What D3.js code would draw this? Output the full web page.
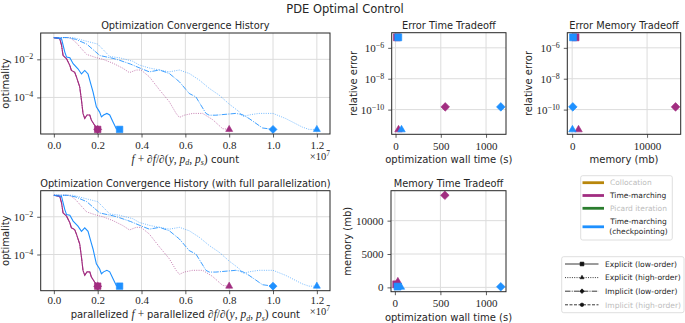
<!DOCTYPE html>
<html><head><meta charset="utf-8">
<script src="https://cdn.jsdelivr.net/npm/d3@7"></script>
<style>body{margin:0;background:#fff} svg{display:block}</style>
</head><body>
<svg id="c" width="685" height="323"></svg>
<script>
// ---------------- DATA ----------------
// Convergence histories: x = function + gradient evaluation count (units of 1e7), y = optimality
const tmExplLowX  = [0, 0.027, 0.035, 0.042, 0.058, 0.073, 0.080, 0.095, 0.103, 0.118, 0.126, 0.133, 0.141, 0.151, 0.164, 0.171, 0.186, 0.200];
const tmExplLowY  = [1.38e-1, 1.2e-1, 5.5e-2, 1.6e-2, 1.07e-2, 4.8e-3, 2.6e-3, 2.1e-3, 1.2e-3, 3.6e-4, 7.2e-5, 1.45e-5, 7.9e-6, 1.2e-5, 1.2e-5, 6.5e-6, 3.5e-6, 2.1e-6];
// implicit low-order time-marching lies under the explicit low-order curve
const tmImplLowX  = [0, 0.027, 0.035, 0.042, 0.058, 0.073, 0.080, 0.095, 0.103, 0.118, 0.126, 0.133, 0.141, 0.151, 0.164, 0.171, 0.186, 0.200];
const tmImplLowY  = [1.38e-1, 1.2e-1, 5.5e-2, 1.6e-2, 1.07e-2, 4.8e-3, 2.6e-3, 2.1e-3, 1.2e-3, 3.6e-4, 7.2e-5, 1.45e-5, 7.9e-6, 1.2e-5, 1.2e-5, 6.5e-6, 3.5e-6, 2.1e-6];
const tmExplHighX = [0, 0.073, 0.10, 0.13, 0.15, 0.19, 0.224, 0.270, 0.315, 0.345, 0.376, 0.398, 0.436, 0.482, 0.527, 0.558, 0.573, 0.595, 0.633, 0.679, 0.724, 0.770, 0.800];
const tmExplHighY = [1.38e-1, 1.38e-1, 7.9e-2, 3.2e-2, 1.8e-2, 1.26e-2, 1.0e-2, 6.2e-3, 3.4e-3, 2.0e-3, 2.75e-3, 2.75e-3, 1.2e-3, 2.5e-4, 5.9e-5, 1.45e-5, 8.9e-6, 1.17e-5, 1.45e-5, 1.45e-5, 6.9e-6, 2.3e-6, 2.1e-6];
const cpExplLowX  = [0, 0.035, 0.050, 0.058, 0.073, 0.088, 0.110, 0.126, 0.141, 0.156, 0.171, 0.179, 0.194, 0.209, 0.217, 0.227, 0.242, 0.255, 0.270, 0.285, 0.300];
const cpExplLowY  = [1.38e-1, 1.2e-1, 2.4e-2, 1.3e-2, 1.2e-2, 5.9e-3, 3.2e-3, 1.7e-3, 2.6e-3, 1.7e-3, 4.0e-4, 1.9e-4, 3.2e-5, 1.7e-5, 9.5e-6, 1.2e-5, 1.45e-5, 1.2e-5, 5.2e-6, 2.3e-6, 2.1e-6];
const cpImplLowX  = [0, 0.06, 0.10, 0.15, 0.19, 0.21, 0.27, 0.30, 0.35, 0.40, 0.436, 0.482, 0.527, 0.573, 0.618, 0.648, 0.694, 0.709, 0.739, 0.83, 0.86, 0.891, 0.952, 1.0];
const cpImplLowY  = [1.38e-1, 1.38e-1, 1.12e-1, 6.3e-2, 2.5e-2, 1.58e-2, 1.12e-2, 8.9e-3, 5.6e-3, 3.2e-3, 2.2e-3, 2.75e-3, 1.8e-3, 6.6e-4, 1.6e-4, 1.07e-4, 1.45e-5, 1.17e-5, 1.17e-5, 1.45e-5, 1.26e-5, 7.8e-6, 2.5e-6, 2.1e-6];
const cpExplHighX = [0, 0.088, 0.149, 0.20, 0.23, 0.255, 0.30, 0.36, 0.39, 0.436, 0.482, 0.527, 0.573, 0.618, 0.664, 0.709, 0.755, 0.80, 0.845, 0.861, 0.90, 0.936, 1.0, 1.058, 1.133, 1.164, 1.2];
const cpExplHighY = [1.38e-1, 1.38e-1, 8.9e-2, 6.3e-2, 2.8e-2, 1.4e-2, 1.2e-2, 7.9e-3, 5.0e-3, 3.5e-3, 2.75e-3, 2.2e-3, 2.75e-3, 1.8e-3, 8.1e-4, 3.0e-4, 1.3e-4, 4.5e-5, 1.8e-5, 1.0e-5, 1.26e-5, 1.45e-5, 1.45e-5, 7.8e-6, 2.8e-6, 2.1e-6, 2.1e-6];

// Tradeoff scatter (one entry per method/scheme)
const tradeMethod = ["Time-marching", "Time-marching", "Time-marching", "Time-marching (checkpointing)", "Time-marching (checkpointing)", "Time-marching (checkpointing)"];
const tradeScheme = ["Explicit (low-order)", "Explicit (high-order)", "Implicit (low-order)", "Explicit (low-order)", "Explicit (high-order)", "Implicit (low-order)"];
const wallTime    = [15, 33, 549, 30, 66, 1163];
const memoryMb    = [450, 850, 13800, 120, 40, 90];
const relError    = [4.8e-6, 5e-12, 1.5e-10, 4.8e-6, 5e-12, 1.5e-10];

// Ticks
const convXTicks = [0, 0.2, 0.4, 0.6, 0.8, 1.0, 1.2];
const convYTicks = [1e-2, 1e-4];
const errYTicks  = [1e-6, 1e-8, 1e-10];
const timeTicks  = [0, 500, 1000];
const memXTicks  = [0, 10000];
const memYTicks  = [0, 5000, 10000];

// Legends
const methodLabels = ["Collocation", "Time-marching", "Picard iteration", "Time-marching\n(checkpointing)"];
const methodActive = [false, true, false, true];
const schemeLabels = ["Explicit (low-order)", "Explicit (high-order)", "Implicit (low-order)", "Implicit (high-order)"];
const schemeActive = [true, true, true, false];

// ---------------- STYLE ----------------
const PURPLE = "#a12d80", BLUE = "#1e90ff";
const methodColor = {"Collocation": "#b8860b", "Time-marching": PURPLE, "Picard iteration": "#2a7d2e", "Time-marching (checkpointing)": BLUE};
const schemeMarker = {"Explicit (low-order)": "square", "Explicit (high-order)": "triangle", "Implicit (low-order)": "diamond", "Implicit (high-order)": "circle"};
const schemeDash = {"Explicit (low-order)": null, "Explicit (high-order)": "1,1.3", "Implicit (low-order)": "5.5,1.2,1,1.2", "Implicit (high-order)": "3,1.5"};
const SANS = "DejaVu Sans, Verdana, sans-serif";
const SERIF = "Liberation Serif, 'DejaVu Serif', serif";
const TXT = "#262626";

const svg = d3.select("#c");
svg.append("rect").attr("width", 685).attr("height", 323).attr("fill", "#fff");

function markerPath(type, s) {
  if (type === "square") return d3.symbol(d3.symbolSquare, s * s)();
  if (type === "diamond") return d3.symbol(d3.symbolSquare, s * s * 0.75)();
  if (type === "triangle") return d3.symbol(d3.symbolTriangle, s * s * 0.5)();
  return d3.symbol(d3.symbolCircle, s * s * 0.7)();
}
function drawMarker(g, type, x, y, color, s) {
  g.append("path").attr("d", markerPath(type, s))
    .attr("transform", `translate(${x},${y})` + (type === "diamond" ? " rotate(45)" : ""))
    .attr("fill", color).attr("stroke", color).attr("stroke-width", 0.6);
}
function padLin(v) { const [a, b] = d3.extent(v); const r = b - a; return [a - 0.05 * r, b + 0.05 * r]; }
function padLog(v) { const [a, b] = d3.extent(v).map(Math.log10); const r = b - a; return [10 ** (a - 0.05 * r), 10 ** (b + 0.05 * r)]; }

function logFmt(sel, fs) {
  sel.each(function(d) {
    const e = Math.round(Math.log10(d));
    const t = d3.select(this); t.text(null);
    t.append("tspan").text("10");
    t.append("tspan").attr("dy", "-0.5em").attr("font-size", fs * 0.72).text("−" + Math.abs(e));
  });
}

function axes(g, b, x, y, xt, yt, o) {
  const grid = g.append("g");
  grid.selectAll(null).data(xt).join("line")
    .attr("x1", d => x(d)).attr("x2", d => x(d)).attr("y1", b.y0).attr("y2", b.y1)
    .attr("stroke", "#dcdcdc").attr("stroke-width", 1);
  grid.selectAll(null).data(yt).join("line")
    .attr("y1", d => y(d)).attr("y2", d => y(d)).attr("x1", b.x0).attr("x2", b.x1)
    .attr("stroke", "#dcdcdc").attr("stroke-width", 1);
  const fs = 11;
  const xa = g.append("g").attr("transform", `translate(0,${b.y1})`)
    .call(d3.axisBottom(x).tickValues(xt).tickSize(3.5).tickPadding(o.xpad).tickFormat(o.xfmt));
  const ya = g.append("g").attr("transform", `translate(${b.x0},0)`)
    .call(d3.axisLeft(y).tickValues(yt).tickSize(3.5).tickPadding(4).tickFormat(o.ylog ? (d => "") : o.yfmt));
  [xa, ya].forEach(a => {
    a.select(".domain").remove();
    a.selectAll("line").attr("stroke", "#333").attr("stroke-width", 0.8);
    a.selectAll("text").attr("font-family", SERIF).attr("font-size", fs).attr("fill", TXT);
  });
  if (o.ylog) logFmt(ya.selectAll("text"), fs);
}
function frame(g, b) {
  g.append("rect").attr("x", b.x0).attr("y", b.y0).attr("width", b.x1 - b.x0).attr("height", b.y1 - b.y0)
    .attr("fill", "none").attr("stroke", "#262626").attr("stroke-width", 1);
}
function text(g, x, y, s, o = {}) {
  return g.append("text").attr("x", x).attr("y", y).text(s)
    .attr("font-family", o.ff || SANS).attr("font-size", o.fs || 10).attr("fill", o.fill || TXT)
    .attr("text-anchor", o.anchor || "middle")
    .attr("transform", o.rot ? `rotate(-90,${x},${y})` : null);
}
function mathLabel(g, x, y, prefix) {
  const t = g.append("text").attr("x", x).attr("y", y).attr("text-anchor", "middle").attr("fill", TXT).attr("font-size", 10);
  const parts = [];
  const P = (s, it, sub) => parts.push({s, it, sub});
  if (prefix) parts.push({s: "parallelized ", sans: true});
  P("f", 1); P(" + ");
  if (prefix) parts.push({s: "parallelized ", sans: true});
  P("∂"); P("f", 1); P("/∂("); P("y", 1); P(", "); P("p", 1); P("d", 1, 1); P(", "); P("p", 1); P("s", 1, 1); P(")");
  parts.push({s: " count", sans: true});
  let shifted = false;
  parts.forEach(p => {
    const ts = t.append("tspan").text(p.s)
      .attr("font-family", p.sans ? SANS : SERIF)
      .attr("font-size", p.sans ? 10 : (p.sub ? 8 : 11.5))
      .attr("font-style", p.it ? "italic" : "normal");
    if (p.sub && !shifted) { ts.attr("dy", 2.5); shifted = true; }
    else if (!p.sub && shifted) { ts.attr("dy", -2.5); shifted = false; }
  });
}
function offsetText(g, x, y) {
  const t = g.append("text").attr("x", x).attr("y", y).attr("text-anchor", "end").attr("fill", TXT)
    .attr("font-family", SERIF).attr("font-size", 10.5);
  t.append("tspan").text("×10");
  t.append("tspan").attr("dy", -4.5).attr("font-size", 7.5).text("7");
}

// ---------------- SUPTITLE ----------------
text(svg, 345, 13, "PDE Optimal Control", {fs: 11.5});

// ---------------- CONVERGENCE PANELS ----------------
const convSeries = [
  {x: tmExplHighX, y: tmExplHighY, m: "Time-marching", s: "Explicit (high-order)"},
  {x: cpExplHighX, y: cpExplHighY, m: "Time-marching (checkpointing)", s: "Explicit (high-order)"},
  {x: cpImplLowX, y: cpImplLowY, m: "Time-marching (checkpointing)", s: "Implicit (low-order)"},
  {x: tmImplLowX, y: tmImplLowY, m: "Time-marching", s: "Implicit (low-order)"},
  {x: tmExplLowX, y: tmExplLowY, m: "Time-marching", s: "Explicit (low-order)"},
  {x: cpExplLowX, y: cpExplLowY, m: "Time-marching (checkpointing)", s: "Explicit (low-order)"}
];
const allConvX = convSeries.flatMap(d => d.x), allConvY = convSeries.flatMap(d => d.y);

function convPanel(b, title, par, tickPad, titleY, labelY, offY) {
  const g = svg.append("g");
  const x = d3.scaleLinear().domain(padLin(allConvX)).range([b.x0, b.x1]);
  const y = d3.scaleLog().domain(padLog(allConvY)).range([b.y1, b.y0]);
  axes(g, b, x, y, convXTicks, convYTicks, {xpad: tickPad, xfmt: d3.format(".1f"), ylog: true});
  const line = d3.line().x(d => x(d[0])).y(d => y(d[1]));
  convSeries.forEach(sr => {
    const pts = sr.x.map((v, i) => [v, sr.y[i]]);
    const dotted = sr.s === "Explicit (high-order)";
    const dd = sr.s === "Implicit (low-order)";
    g.append("path").attr("d", line(pts)).attr("fill", "none")
      .attr("stroke", methodColor[sr.m]).attr("stroke-width", dotted ? 1 : (dd ? 0.95 : 1.1))
      .attr("stroke-opacity", dotted ? 0.6 : (dd ? 0.9 : 1))
      .attr("stroke-dasharray", schemeDash[sr.s]);
  });
  convSeries.forEach(sr => {
    const last = sr.x.length - 1;
    drawMarker(g, schemeMarker[sr.s], x(sr.x[last]), y(sr.y[last]), methodColor[sr.m], 6.5);
  });
  frame(g, b);
  text(g, (b.x0 + b.x1) / 2, titleY, title, {fs: 9.8});
  text(g, 9, (b.y0 + b.y1) / 2, "optimality", {fs: 10, rot: true});
  mathLabel(g, (b.x0 + b.x1) / 2, labelY, par);
  offsetText(g, b.x1, offY);
}
convPanel({x0: 40.7, x1: 330, y0: 33, y1: 134}, "Optimization Convergence History", false, 4, 28.5, 162.5, 160);
convPanel({x0: 40.7, x1: 330, y0: 190.7, y1: 290.7}, "Optimization Convergence History (with full parallelization)", true, 2.5, 186.5, 318, 315);

// ---------------- TRADEOFF PANELS ----------------
const idx = d3.range(wallTime.length);
function scatterPanel(b, title, xv, yv, xt, yt, ylog, xlab, ylab, ylabX, xlabY, titleY, tickPad) {
  const g = svg.append("g");
  const x = d3.scaleLinear().domain(padLin(xv)).range([b.x0, b.x1]);
  const y = ylog ? d3.scaleLog().domain(padLog(yv)).range([b.y1, b.y0])
                 : d3.scaleLinear().domain(padLin(yv)).range([b.y1, b.y0]);
  axes(g, b, x, y, xt, yt, {xpad: tickPad, xfmt: d3.format("d"), ylog: ylog, yfmt: d3.format("d")});
  idx.forEach(i => drawMarker(g, schemeMarker[tradeScheme[i]], x(xv[i]), y(yv[i]), methodColor[tradeMethod[i]], 7));
  frame(g, b);
  text(g, (b.x0 + b.x1) / 2, titleY, title, {fs: 9.8});
  text(g, ylabX, (b.y0 + b.y1) / 2, ylab, {fs: 10, rot: true});
  text(g, (b.x0 + b.x1) / 2, xlabY, xlab, {fs: 10});
}
scatterPanel({x0: 391.7, x1: 506, y0: 32.7, y1: 134.3}, "Error Time Tradeoff", wallTime, relError, timeTicks, errYTicks, true,
  "optimization wall time (s)", "relative error", 356.5, 162.5, 28.5, 4);
scatterPanel({x0: 567.3, x1: 680.7, y0: 32.7, y1: 134.3}, "Error Memory Tradeoff", memoryMb, relError, memXTicks, errYTicks, true,
  "memory (mb)", "relative error", 532.3, 162.5, 28.5, 4);
scatterPanel({x0: 391, x1: 506, y0: 190.7, y1: 291.7}, "Memory Time Tradeoff", wallTime, memoryMb, timeTicks, memYTicks, false,
  "optimization wall time (s)", "memory (mb)", 351.5, 321, 186.5, 4.5);

// ---------------- LEGENDS ----------------
const L1 = svg.append("g");
L1.append("rect").attr("x", 580.7).attr("y", 175.7).attr("width", 91.6).attr("height", 64.3).attr("rx", 2)
  .attr("fill", "#fff").attr("stroke", "#d5d5d5").attr("stroke-width", 0.8);
const l1Y = [182.7, 195.5, 208.3, 226.8];
methodLabels.forEach((lab, i) => {
  const key = lab.replace("\n", " ");
  L1.append("line").attr("x1", 582.5).attr("x2", 604).attr("y1", l1Y[i]).attr("y2", l1Y[i])
    .attr("stroke", methodColor[key]).attr("stroke-width", 2.8);
  const lines = lab.split("\n");
  const col = methodActive[i] ? TXT : "#bdbdbd";
  if (lines.length === 1) {
    text(L1, 610, l1Y[i] + 2.7, lab, {fs: 7.5, anchor: "start", fill: col});
  } else {
    lines.forEach((ln, j) => text(L1, 638.5, l1Y[i] - 2.4 + j * 9.8, ln, {fs: 7.5, fill: col}));
  }
});

const L2 = svg.append("g");
L2.append("rect").attr("x", 561.7).attr("y", 256.7).attr("width", 122.3).attr("height", 56).attr("rx", 2)
  .attr("fill", "#fff").attr("stroke", "#d5d5d5").attr("stroke-width", 0.8);
const l2Y = [264, 277.6, 291.2, 304.8];
schemeLabels.forEach((lab, i) => {
  L2.append("line").attr("x1", 565).attr("x2", 598.5).attr("y1", l2Y[i]).attr("y2", l2Y[i])
    .attr("stroke", "#222").attr("stroke-width", 0.9).attr("stroke-dasharray", schemeDash[lab]);
  drawMarker(L2, schemeMarker[lab], 582, l2Y[i], "#111", 3.8);
  text(L2, 605, l2Y[i] + 2.7, lab, {fs: 7.6, anchor: "start", fill: schemeActive[i] ? TXT : "#bdbdbd"});
});
</script>
</body></html>
